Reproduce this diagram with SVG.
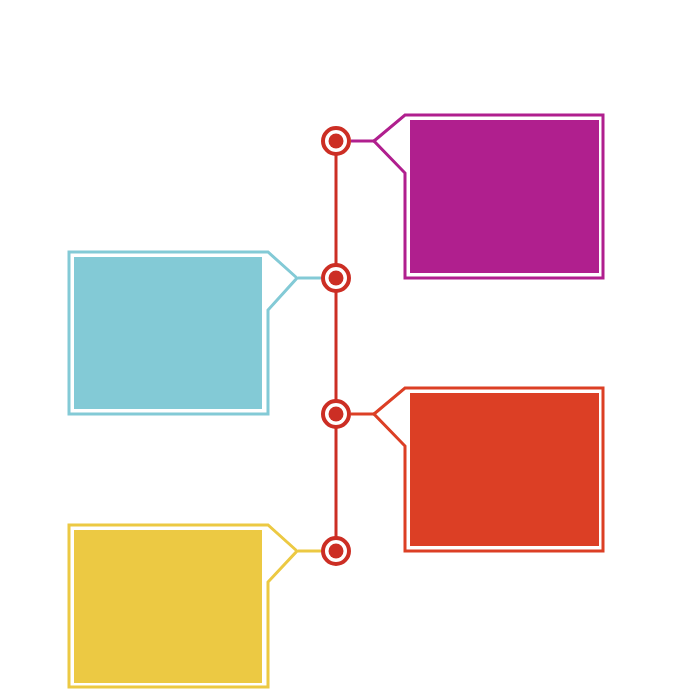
<svg xmlns="http://www.w3.org/2000/svg" width="691" height="691" viewBox="0 0 691 691">
<style>
.o{fill:none;stroke-width:3;stroke-linejoin:miter}
.dot-ring{fill:#fff;stroke:#cc2e24;stroke-width:4}
.dot{fill:#cc2e24}
</style>
<rect width="691" height="691" fill="#fff"/>
<g id="connectors">
<line x1="336" y1="141" x2="336" y2="551" stroke="#cc2e24" stroke-width="3"/>
<line x1="351" y1="141" x2="374" y2="141" stroke="#b01f8e" stroke-width="3"/>
<line x1="298" y1="278" x2="321" y2="278" stroke="#83cad6" stroke-width="3"/>
<line x1="351" y1="414" x2="374" y2="414" stroke="#dc3f25" stroke-width="3"/>
<line x1="298" y1="551" x2="321" y2="551" stroke="#ecc943" stroke-width="3"/>
</g>
<g id="node-1">
<path class="o" stroke="#b01f8e" d="M374 141 L405 115 L603 115 L603 278 L405 278 L405 173 Z"/>
<rect x="410" y="120" width="189" height="153" fill="#b01f8e"/>
</g>
<g id="node-2">
<path class="o" stroke="#83cad6" d="M297 278 L268 252 L69 252 L69 414 L268 414 L268 310 Z"/>
<rect x="74" y="257" width="188" height="152" fill="#83cad6"/>
</g>
<g id="node-3">
<path class="o" stroke="#dc3f25" d="M374 414 L405 388 L603 388 L603 551 L405 551 L405 446 Z"/>
<rect x="410" y="393" width="189" height="153" fill="#dc3f25"/>
</g>
<g id="node-4">
<path class="o" stroke="#ecc943" d="M297 551 L268 525 L69 525 L69 687 L268 687 L268 582 Z"/>
<rect x="74" y="530" width="188" height="153" fill="#ecc943"/>
</g>
<g id="dot-1"><circle class="dot-ring" cx="336" cy="141" r="13"/><circle class="dot" cx="336" cy="141" r="7.5"/></g>
<g id="dot-2"><circle class="dot-ring" cx="336" cy="278" r="13"/><circle class="dot" cx="336" cy="278" r="7.5"/></g>
<g id="dot-3"><circle class="dot-ring" cx="336" cy="414" r="13"/><circle class="dot" cx="336" cy="414" r="7.5"/></g>
<g id="dot-4"><circle class="dot-ring" cx="336" cy="551" r="13"/><circle class="dot" cx="336" cy="551" r="7.5"/></g>
</svg>
